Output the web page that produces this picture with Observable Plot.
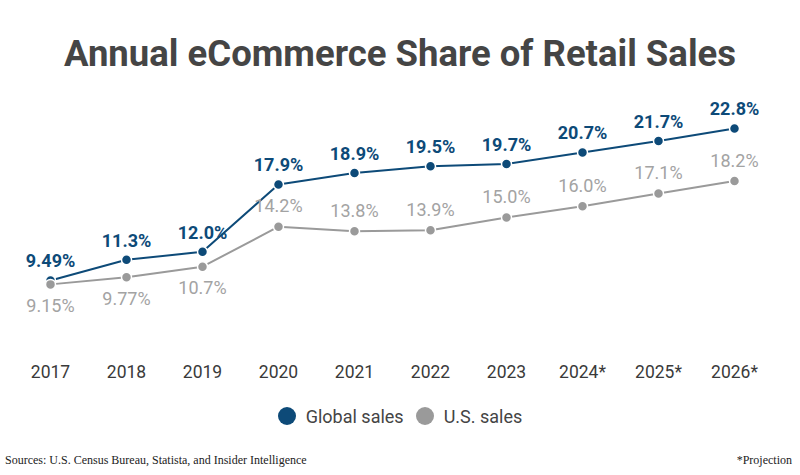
<!DOCTYPE html>
<html>
<head>
<meta charset="utf-8">
<script src="https://cdn.jsdelivr.net/npm/d3@7"></script>
<script src="https://cdn.jsdelivr.net/npm/@observablehq/plot@0.6"></script>
<style>
  html, body { margin: 0; padding: 0; background: #fff; }
  #wrap { width: 800px; height: 475px; position: relative; font-family: Roboto, sans-serif; }
  h1 { margin: 0; height: 90px; line-height: 108px; text-align: center; font-size: 36.5px; font-weight: 700; color: #454545; }
  #chart svg { display: block; }
  #legend { display: flex; justify-content: center; align-items: center; height: 44px; font-size: 18px; color: #444; margin-top: 4px; }
  #legend .item { display: flex; align-items: center; margin: 0 6px; }
  #legend .dot { width: 18px; height: 18px; border-radius: 50%; margin-right: 10px; }
  #foot { position: absolute; left: 5px; right: 8px; top: 453px; display: flex; justify-content: space-between; font-family: "Liberation Serif", serif; font-size: 12px; color: #222; }
</style>
</head>
<body>
<div id="wrap">
  <h1>Annual eCommerce Share of Retail Sales</h1>
  <div id="chart"></div>
  <div id="legend"></div>
  <div id="foot"><span>Sources: U.S. Census Bureau, Statista, and Insider Intelligence</span><span>*Projection</span></div>
</div>
<script>
// Share of retail sales made online, in percent
const years = ["2017", "2018", "2019", "2020", "2021", "2022", "2023", "2024*", "2025*", "2026*"];
const globalSales = [9.49, 11.3, 12.0, 17.9, 18.9, 19.5, 19.7, 20.7, 21.7, 22.8];
const usSales = [9.15, 9.77, 10.7, 14.2, 13.8, 13.9, 15.0, 16.0, 17.1, 18.2];

const seriesNames = ["Global sales", "U.S. sales"];
const seriesColors = ["#0d4a78", "#9a9a9a"];
const labelColors = ["#0d4a78", "#a3a3a3"];

const fmt = v => d3.format(".3r")(v) + "%";

const globalRows = years.map((year, i) => ({year, value: globalSales[i]}));
// U.S. labels go under the point where the two lines run close together
const usRows = years.map((year, i) => ({year, value: usSales[i], below: globalSales[i] - usSales[i] < 2}));

const labelFont = 18;

const chart = Plot.plot({
  width: 800,
  height: 300,
  marginLeft: 47,
  marginRight: 63,
  marginTop: 12.9,
  marginBottom: 35.9,
  x: {type: "point", domain: years, padding: 0, label: null},
  y: {domain: [3, 25], axis: null},
  style: {fontFamily: "Roboto, sans-serif", overflow: "visible"},
  marks: [
    Plot.axisX({tickSize: 0, tickPadding: 11, fontSize: 17.5, fontWeight: 400, color: "#3a3a3a", label: null}),
    Plot.line(globalRows, {x: "year", y: "value", stroke: seriesColors[0], strokeWidth: 2}),
    Plot.dot(globalRows, {x: "year", y: "value", r: 5, fill: seriesColors[0], stroke: "#fff", strokeWidth: 1.5}),
    Plot.text(globalRows, {x: "year", y: "value", text: d => fmt(d.value), dy: -19, fill: labelColors[0], fontSize: labelFont, fontWeight: 700}),
    Plot.line(usRows, {x: "year", y: "value", stroke: seriesColors[1], strokeWidth: 2}),
    Plot.dot(usRows, {x: "year", y: "value", r: 5, fill: seriesColors[1], stroke: "#fff", strokeWidth: 1.5}),
    Plot.text(usRows, {x: "year", y: "value", text: d => fmt(d.value), fill: labelColors[1], fontSize: labelFont, fontWeight: 400,
      filter: d => d.below, dy: 22}),
    Plot.text(usRows, {x: "year", y: "value", text: d => fmt(d.value), fill: labelColors[1], fontSize: labelFont, fontWeight: 400,
      filter: d => !d.below, dy: -20})
  ]
});
document.getElementById("chart").appendChild(chart);

const legend = document.getElementById("legend");
seriesNames.forEach((name, i) => {
  const item = document.createElement("div");
  item.className = "item";
  item.innerHTML = `<span class="dot" style="background:${seriesColors[i]}"></span><span>${name}</span>`;
  legend.appendChild(item);
});
</script>
</body>
</html>
